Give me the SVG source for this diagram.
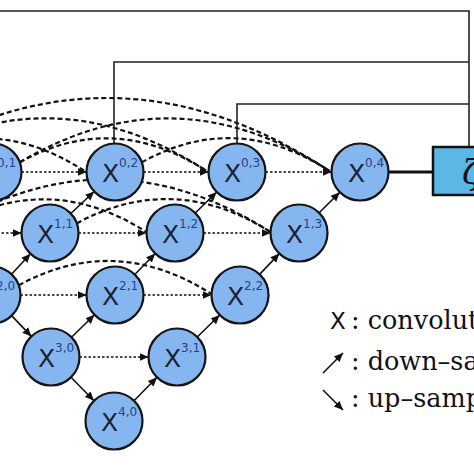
<svg xmlns="http://www.w3.org/2000/svg" width="474" height="474" viewBox="0 0 474 474">
<style>
.node circle{fill:#86b6ef;stroke:#151515;stroke-width:2.2}
.X{font-family:"DejaVu Sans",sans-serif;font-size:25px;fill:#1b2233}
.sup{font-family:"DejaVu Sans",sans-serif;font-size:12px;fill:#27408b}
.dot{fill:none;stroke:#111;stroke-width:1.6;stroke-dasharray:2.5,2}
.arc{fill:none;stroke:#111;stroke-width:2.2;stroke-dasharray:5,3}
.sol{fill:none;stroke:#111;stroke-width:1.6}
.thin{fill:none;stroke:#222;stroke-width:1.6}
.leg{font-family:"DejaVu Serif",serif;font-size:25.5px;fill:#111}
</style>
<defs>
<marker id="ah" markerUnits="userSpaceOnUse" markerWidth="10" markerHeight="10" refX="9" refY="5" orient="auto"><path d="M0,1 L9,5 L0,9 Z" fill="#111"/></marker>
</defs>
<rect width="474" height="474" fill="#fff"/>
<g id="connectors">
<path class="thin" d="M0,11 H469 V147"/>
<path class="thin" d="M114,143 V62 H469"/>
<path class="thin" d="M237,143 V104 H469"/>
<line x1="388" y1="172" x2="433" y2="172" stroke="#111" stroke-width="3"/>
<line class="dot" x1="21.5" y1="172" x2="86.5" y2="172" marker-end="url(#ah)"/>
<line class="dot" x1="143.5" y1="172" x2="208.5" y2="172" marker-end="url(#ah)"/>
<line class="dot" x1="265.5" y1="172" x2="331.5" y2="172" marker-end="url(#ah)"/>
<line class="dot" x1="-43.5" y1="233" x2="21.5" y2="233" marker-end="url(#ah)"/>
<line class="dot" x1="78.5" y1="233" x2="146.5" y2="233" marker-end="url(#ah)"/>
<line class="dot" x1="203.5" y1="233" x2="270.5" y2="233" marker-end="url(#ah)"/>
<line class="dot" x1="20.5" y1="295" x2="86.5" y2="295" marker-end="url(#ah)"/>
<line class="dot" x1="143.5" y1="295" x2="211.5" y2="295" marker-end="url(#ah)"/>
<line class="dot" x1="79.5" y1="357" x2="148.5" y2="357" marker-end="url(#ah)"/>
<path class="arc" d="M-102.2,162.3 Q113.6,29.5 329.5,171"/>
<path class="arc" d="M-102.2,162.3 Q52.2,70.1 206.5,171"/>
<path class="arc" d="M-102.2,162.3 Q-8.8,110.4 84.5,171"/>
<path class="arc" d="M19.8,162.3 Q174.6,70.4 329.5,171"/>
<path class="arc" d="M19.8,162.3 Q113.2,110.4 206.5,171"/>
<path class="arc" d="M141.8,162.3 Q235.6,110 329.5,171"/>
<path class="arc" d="M-45.2,223.3 Q50.7,171.3 146.5,232"/>
<path class="arc" d="M-45.2,223.3 Q112.6,131.3 270.5,232"/>
<path class="arc" d="M76.8,223.3 Q173.6,170.8 270.5,232"/>
<path class="arc" d="M18.8,285.3 Q115.1,232.6 211.5,294"/>
<line class="sol" x1="11.5" y1="274.2" x2="30.5" y2="253.8" marker-end="url(#ah)"/>
<line class="sol" x1="70.8" y1="213.5" x2="94.2" y2="191.5" marker-end="url(#ah)"/>
<line class="sol" x1="71.5" y1="337.2" x2="94.5" y2="314.8" marker-end="url(#ah)"/>
<line class="sol" x1="134.8" y1="274.5" x2="155.2" y2="253.5" marker-end="url(#ah)"/>
<line class="sol" x1="195.3" y1="213" x2="216.7" y2="192" marker-end="url(#ah)"/>
<line class="sol" x1="134" y1="400.7" x2="157" y2="377.3" marker-end="url(#ah)"/>
<line class="sol" x1="197.3" y1="337" x2="219.7" y2="315" marker-end="url(#ah)"/>
<line class="sol" x1="259.6" y1="274.4" x2="279.4" y2="253.6" marker-end="url(#ah)"/>
<line class="sol" x1="319.2" y1="212.8" x2="339.8" y2="192.2" marker-end="url(#ah)"/>
<line class="sol" x1="11.6" y1="315.6" x2="31.4" y2="336.4" marker-end="url(#ah)"/>
<line class="sol" x1="71" y1="377.3" x2="94" y2="400.7" marker-end="url(#ah)"/>
</g>
<g id="n01" class="node"><circle cx="-7" cy="172" r="28.5"/><text class="X" x="-20" y="182">X</text><text class="sup" x="-3" y="167">0,1</text></g>
<g id="n02" class="node"><circle cx="115" cy="172" r="28.5"/><text class="X" x="102" y="182">X</text><text class="sup" x="119" y="167">0,2</text></g>
<g id="n03" class="node"><circle cx="237" cy="172" r="28.5"/><text class="X" x="224" y="182">X</text><text class="sup" x="241" y="167">0,3</text></g>
<g id="n04" class="node"><circle cx="360" cy="172" r="28.5"/><text class="X" x="348" y="182">X</text><text class="sup" x="365" y="167">0,4</text></g>
<g id="n11" class="node"><circle cx="50" cy="233" r="28.5"/><text class="X" x="37" y="243">X</text><text class="sup" x="54" y="228">1,1</text></g>
<g id="n12" class="node"><circle cx="175" cy="233" r="28.5"/><text class="X" x="162" y="243">X</text><text class="sup" x="179" y="228">1,2</text></g>
<g id="n13" class="node"><circle cx="299" cy="233" r="28.5"/><text class="X" x="286" y="243">X</text><text class="sup" x="303" y="228">1,3</text></g>
<g id="n20" class="node"><circle cx="-8" cy="295" r="28.5"/><text class="X" x="-21" y="305">X</text><text class="sup" x="-4" y="290">2,0</text></g>
<g id="n21" class="node"><circle cx="115" cy="295" r="28.5"/><text class="X" x="102" y="305">X</text><text class="sup" x="119" y="290">2,1</text></g>
<g id="n22" class="node"><circle cx="240" cy="295" r="28.5"/><text class="X" x="227" y="305">X</text><text class="sup" x="244" y="290">2,2</text></g>
<g id="n30" class="node"><circle cx="51" cy="357" r="28.5"/><text class="X" x="38" y="367">X</text><text class="sup" x="55" y="352">3,0</text></g>
<g id="n31" class="node"><circle cx="177" cy="357" r="28.5"/><text class="X" x="164" y="367">X</text><text class="sup" x="181" y="352">3,1</text></g>
<g id="n40" class="node"><circle cx="114" cy="421" r="28.5"/><text class="X" x="101" y="431">X</text><text class="sup" x="118" y="416">4,0</text></g>
<g id="zeta">
<rect x="433" y="147" width="60" height="48" fill="#5cb6e6" stroke="#111" stroke-width="2.5"/>
<text x="462" y="184" font-family="DejaVu Serif,serif" font-style="italic" font-size="34" fill="#111">ζ</text>
</g>
<g id="legend">
<text x="330" y="329" font-family="DejaVu Sans,sans-serif" font-size="23" fill="#111">X</text>
<text class="leg" x="351" y="329">: convolut</text>
<line class="sol" x1="323" y1="373" x2="343" y2="353" marker-end="url(#ah)"/>
<text class="leg" x="351" y="370">: down–sa</text>
<line class="sol" x1="323" y1="390" x2="343" y2="410" marker-end="url(#ah)"/>
<text class="leg" x="351" y="407">: up–samp</text>
</g>
</svg>
